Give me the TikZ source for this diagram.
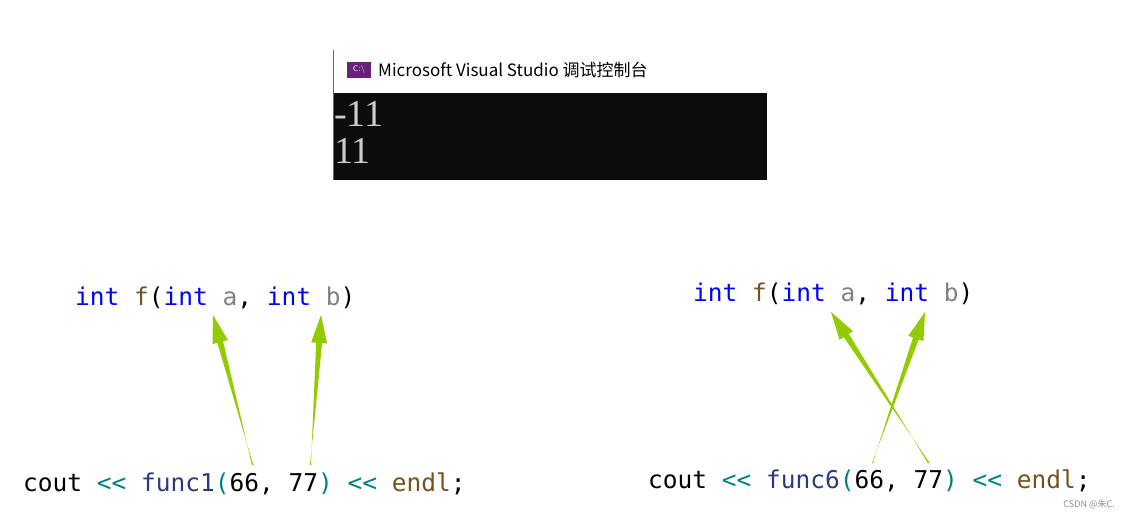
\documentclass[tikz,border=0pt]{standalone}
\usepackage{fontspec}
\usetikzlibrary{calc}
\newfontfamily\codefont{DejaVu Sans Mono}
\newfontfamily\cjk{Noto Sans CJK SC}
\newfontfamily\conserif{Liberation Serif}
\definecolor{kw}{RGB}{0,0,255}
\definecolor{fn}{RGB}{116,83,31}
\definecolor{par}{RGB}{128,128,128}
\definecolor{op}{RGB}{0,128,128}
\definecolor{fc}{RGB}{43,58,125}
\definecolor{arrg}{RGB}{146,204,0}
\definecolor{con}{RGB}{12,12,12}
\tikzset{code/.style={anchor=base west,inner sep=0,font=\codefont\fontsize{24.5}{26}\selectfont},
  contxt/.style={anchor=base west,inner sep=0,text=black!20,font=\conserif\fontsize{38}{40}\selectfont}}
\newcommand\greenwedge[2]{%
  \fill[arrg] ($(#1)!1pt!90:(#2)$) -- ($($(#2)!28pt!(#1)$)!3pt!-90:(#2)$)
   -- ($($(#2)!28pt!(#1)$)!8pt!-90:(#2)$) -- (#2)
   -- ($($(#2)!28pt!(#1)$)!8pt!90:(#2)$) -- ($($(#2)!28pt!(#1)$)!3pt!90:(#2)$)
   -- ($(#1)!1pt!-90:(#1)$) -- ($(#1)!1pt!-90:(#2)$) -- cycle;}
\begin{document}
\begin{tikzpicture}[x=1pt,y=-1pt]
\useasboundingbox (0,0) rectangle (1128,519);
% console
\draw[black!60,line width=1pt] (333.5,50) -- (333.5,180);
\fill[con] (334,93) rectangle (767,180);
\node[draw=none,fill={rgb,255:red,104;green,33;blue,122},minimum width=24pt,minimum height=16pt,inner sep=0,text=white,font=\sffamily\fontsize{8}{8}\selectfont] (icon) at (359,70) {C:\textbackslash};
\node[anchor=base west,inner sep=0,font=\cjk\fontsize{17}{18}\selectfont] (title) at (378,77) {Microsoft Visual Studio 调试控制台};
\node[contxt] (o1) at (334,126) {-11};
\node[contxt] (o2) at (334,163) {11};
% left code
\node[code] (sigL) at (75,305) {\textcolor{kw}{int} \textcolor{fn}{f}(\textcolor{kw}{int} \textcolor{par}{a}, \textcolor{kw}{int} \textcolor{par}{b})};
\node[code] (callL) at (23,491) {cout \textcolor{op}{<<} \textcolor{fc}{func1}\textcolor{op}{(}66, 77\textcolor{op}{)} \textcolor{op}{<<} \textcolor{fn}{endl};};
% right code
\node[code] (sigR) at (693,301) {\textcolor{kw}{int} \textcolor{fn}{f}(\textcolor{kw}{int} \textcolor{par}{a}, \textcolor{kw}{int} \textcolor{par}{b})};
\node[code] (callR) at (648,488) {cout \textcolor{op}{<<} \textcolor{fc}{func6}\textcolor{op}{(}66, 77\textcolor{op}{)} \textcolor{op}{<<} \textcolor{fn}{endl};};
% arrow coordinates
\coordinate (t1) at (253,465); \coordinate (h1) at (213,315);
\coordinate (t2) at (311,465); \coordinate (h2) at (321,315);
\coordinate (t3) at (873,463); \coordinate (h3) at (925,312);
\coordinate (t4) at (929,463); \coordinate (h4) at (831,312);
\greenwedge{t1}{h1}
\greenwedge{t2}{h2}
\greenwedge{t3}{h3}
\greenwedge{t4}{h4}
\node[anchor=base east,inner sep=0,text=black!45,font=\cjk\fontsize{9}{10}\selectfont] (wm) at (1115,507) {CSDN @朱C.};
\end{tikzpicture}
\end{document}
